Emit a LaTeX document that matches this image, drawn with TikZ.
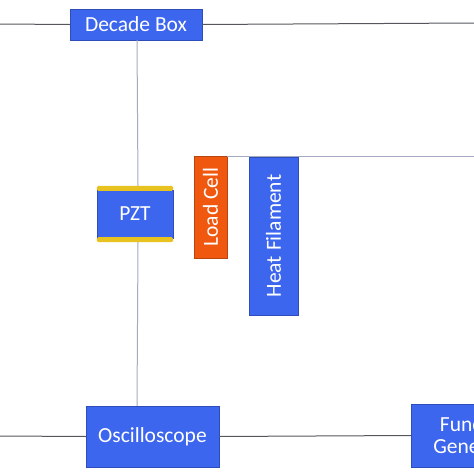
\documentclass[tikz,border=0pt]{standalone}
\usepackage{fontspec}
\setmainfont{Carlito}
\usepackage{xcolor}
\definecolor{boxblue}{HTML}{3D66EE}
\definecolor{boxedge}{HTML}{2E4DB8}
\definecolor{cellorange}{HTML}{F0580F}
\definecolor{celledge}{HTML}{B9450E}
\definecolor{pztgold}{HTML}{E8C21E}
\definecolor{wire}{HTML}{55575C}
\definecolor{softwire}{HTML}{A3AAC2}
\usetikzlibrary{positioning,calc}

\begin{document}
\begin{tikzpicture}[
  x=1pt, y=-1pt,
  font=\fontsize{21.5}{24}\selectfont,
  unit/.style={draw=boxedge, fill=boxblue, text=white, align=center, inner sep=0pt},
  cell/.style={draw=celledge, fill=cellorange, text=white, inner sep=0pt},
  wireline/.style={wire, line width=1pt},
  softline/.style={softwire, line width=1pt}
]
\useasboundingbox (0,0) rectangle (474,474);
\clip (0,0) rectangle (474,474);
% instruments
\node[unit, minimum width=132pt, minimum height=31pt] (decade) at (136,24.5) {Decade Box};
\node[unit, minimum width=133pt, minimum height=61pt] (osc) at (152.5,436.5) {Oscilloscope};
\node[unit, minimum width=134pt, minimum height=63pt] (fgen) at (478,435.5) {Function\\[-2pt]Generator};
% sample stack
\node[unit, minimum width=76pt, minimum height=48pt] (pzt) at (135,214) {PZT};
\fill[pztgold, rounded corners=1.5pt] ($(pzt.north west)+(0,-4)$) rectangle ($(pzt.north east)+(0,1)$);
\fill[pztgold, rounded corners=1.5pt] ($(pzt.south west)+(0,-1)$) rectangle ($(pzt.south east)+(0,4)$);
\node[cell, minimum width=102pt, minimum height=33pt, rotate=90] (load) at (210.5,207) {Load Cell};
\node[unit, minimum width=158pt, minimum height=49pt, rotate=90] (heat) at (273.5,236) {Heat Filament};
% free ends
\coordinate (ltop) at ($(load.center)+(16.5,-51)$);
\coordinate (dleft) at (0,24);
\coordinate (dright) at (474,23);
\coordinate (oleft) at (0,436);
\coordinate (hright) at (474,156);
% wiring
\draw[wireline] (dleft) -- (decade.west);
\draw[wireline] (decade.east) -- (dright);
\draw[wireline] (oleft) -- (osc.west);
\draw[wireline] (osc.east) -- (fgen.west);
\draw[softline] (ltop) -- (hright);
\draw[softline] ($(decade.south)+(1,0)$) -- ($(pzt.north)+(3,-4)$);
\draw[softline] ($(pzt.south)+(3,4)$) -- ($(decade.south |- osc.north)+(1,0)$);
\end{tikzpicture}
\end{document}
